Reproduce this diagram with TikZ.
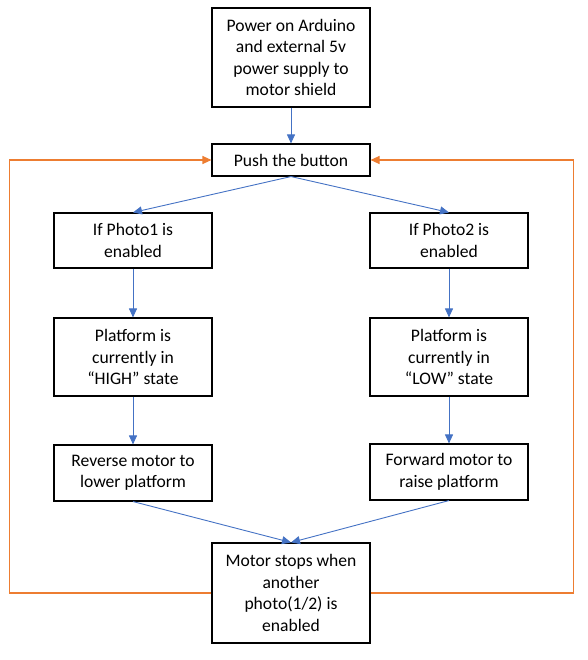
\documentclass[tikz,border=0pt]{standalone}
\usepackage{fontspec}
\setmainfont{Carlito}
\usetikzlibrary{arrows.meta}
\definecolor{flowblue}{HTML}{4472C4}
\definecolor{looporange}{HTML}{ED7D31}
\begin{document}
\begin{tikzpicture}[x=1pt,y=-1pt,
  box/.style={draw=black,line width=1.1pt,rectangle,align=center,inner sep=0pt,
    minimum width=158pt,font=\fontsize{17.6pt}{21.5pt}\selectfont},
  flow/.style={draw=flowblue,line width=0.9pt,-{Triangle[length=9pt,width=8pt]}},
  loop/.style={draw=looporange,line width=1.1pt,-{Triangle[length=9pt,width=8pt]}}]
\useasboundingbox (0,0) rectangle (587,660);
\node[box,minimum height=99pt] (power) at (291,57.5) {Power on Arduino\\and external 5v\\power supply to\\motor shield};
\node[box,minimum height=32pt] (push) at (291,160) {Push the button};
\node[box,minimum height=55pt] (p1) at (133,240.5) {If Photo1 is\\enabled};
\node[box,minimum height=55pt] (p2) at (449,240.5) {If Photo2 is\\enabled};
\node[box,minimum height=78pt] (high) at (133,357) {Platform is\\currently in\\“HIGH” state};
\node[box,minimum height=78pt] (low) at (449,357) {Platform is\\currently in\\“LOW” state};
\node[box,minimum height=56pt] (rev) at (133,473) {Reverse motor to\\lower platform};
\node[box,minimum height=56pt] (fwd) at (449,472) {Forward motor to\\raise platform};
\node[box,minimum height=100pt] (stop) at (291,593) {Motor stops when\\another\\photo(1/2) is\\enabled};
\coordinate (lc) at (9.5,593);
\coordinate (rc) at (573.5,593);
\draw[flow] (power) -- (push);
\draw[flow] (push.south) -- (p1.north);
\draw[flow] (push.south) -- (p2.north);
\draw[flow] (p1) -- (high);
\draw[flow] (p2) -- (low);
\draw[flow] (high) -- (rev);
\draw[flow] (low) -- (fwd);
\draw[flow] (rev.south) -- (stop.north);
\draw[flow] (fwd.south) -- (stop.north);
\draw[loop] (stop.west) -- (lc) |- (push.west);
\draw[loop] (stop.east) -- (rc) |- (push.east);
\end{tikzpicture}
\end{document}
